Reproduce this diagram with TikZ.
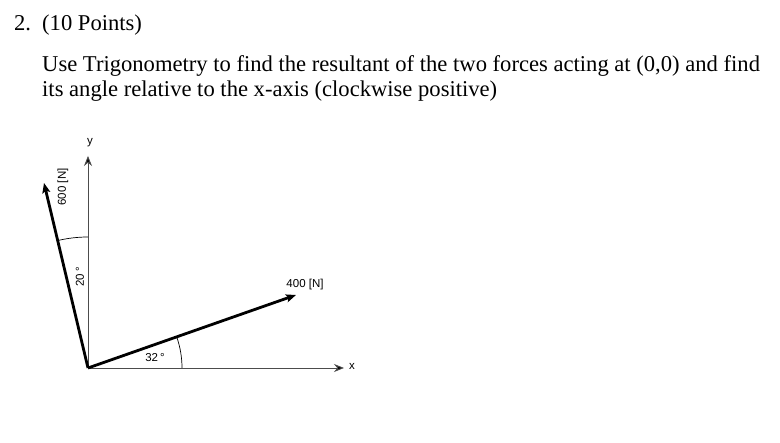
\documentclass[tikz,border=0pt]{standalone}
\usepackage{fontspec}
\setmainfont{Liberation Serif}
\newfontfamily\titlefont{Liberation Serif}
\newfontfamily\lblfont{Liberation Sans}
\usetikzlibrary{arrows.meta}
\begin{document}
\begin{tikzpicture}[x=1pt,y=1pt,
  axis/.style={draw=black!70, line width=0.9pt, -{Stealth[length=10pt,width=8pt,fill=black]}},
  force/.style={draw=black, line width=2.8pt, -{Stealth[length=10pt,width=8pt,inset=2pt]}},
  anglearc/.style={draw=black, line width=0.7pt},
  lbl/.style={font=\lblfont\fontsize{11.5}{13}\selectfont, inner sep=0pt},
  ttl/.style={font=\titlefont\fontsize{22.6}{27}\selectfont, inner sep=0pt, anchor=base west}]
\useasboundingbox (0,0) rectangle (780,443);
% text
\node[ttl] (num) at (14,412) {2.};
\node[ttl] (pts) at (42,412) {(10 Points)};
\node[ttl] (l1) at (42,371) {Use Trigonometry to find the resultant of the two forces acting at (0,0) and find};
\node[ttl] (l2) at (42,346) {its angle relative to the x-axis (clockwise positive)};
% points
\coordinate (O) at (88,75);
\coordinate (Ytip) at (88,287);
\coordinate (Xtip) at (344,75);
\coordinate (F6) at (44,260);
\coordinate (F4) at (296,148);
% axes
\draw[axis] (O) -- (Ytip);
\draw[axis] (O) -- (Xtip);
% arcs
\draw[anglearc] ([shift={(90:131)}]O) arc[start angle=90, end angle=103.4, radius=131];
\draw[anglearc] ([shift={(0:94)}]O) arc[start angle=0, end angle=19.3, radius=94];
% forces
\draw[force] (O) -- (F6);
\draw[force] (O) -- (F4);
% labels
\node[lbl] (ylab) at (90,300) {y};
\node[lbl] (xlab) at (352,77) {x};
\node[lbl, rotate=90] (l600) at (63,256) {600 [N]};
\node[lbl, rotate=90] (l20) at (80,166) {20\,°};
\node[lbl] (l32) at (155,85) {32\,°};
\node[lbl] (l400) at (305,158) {400 [N]};
\end{tikzpicture}
\end{document}
